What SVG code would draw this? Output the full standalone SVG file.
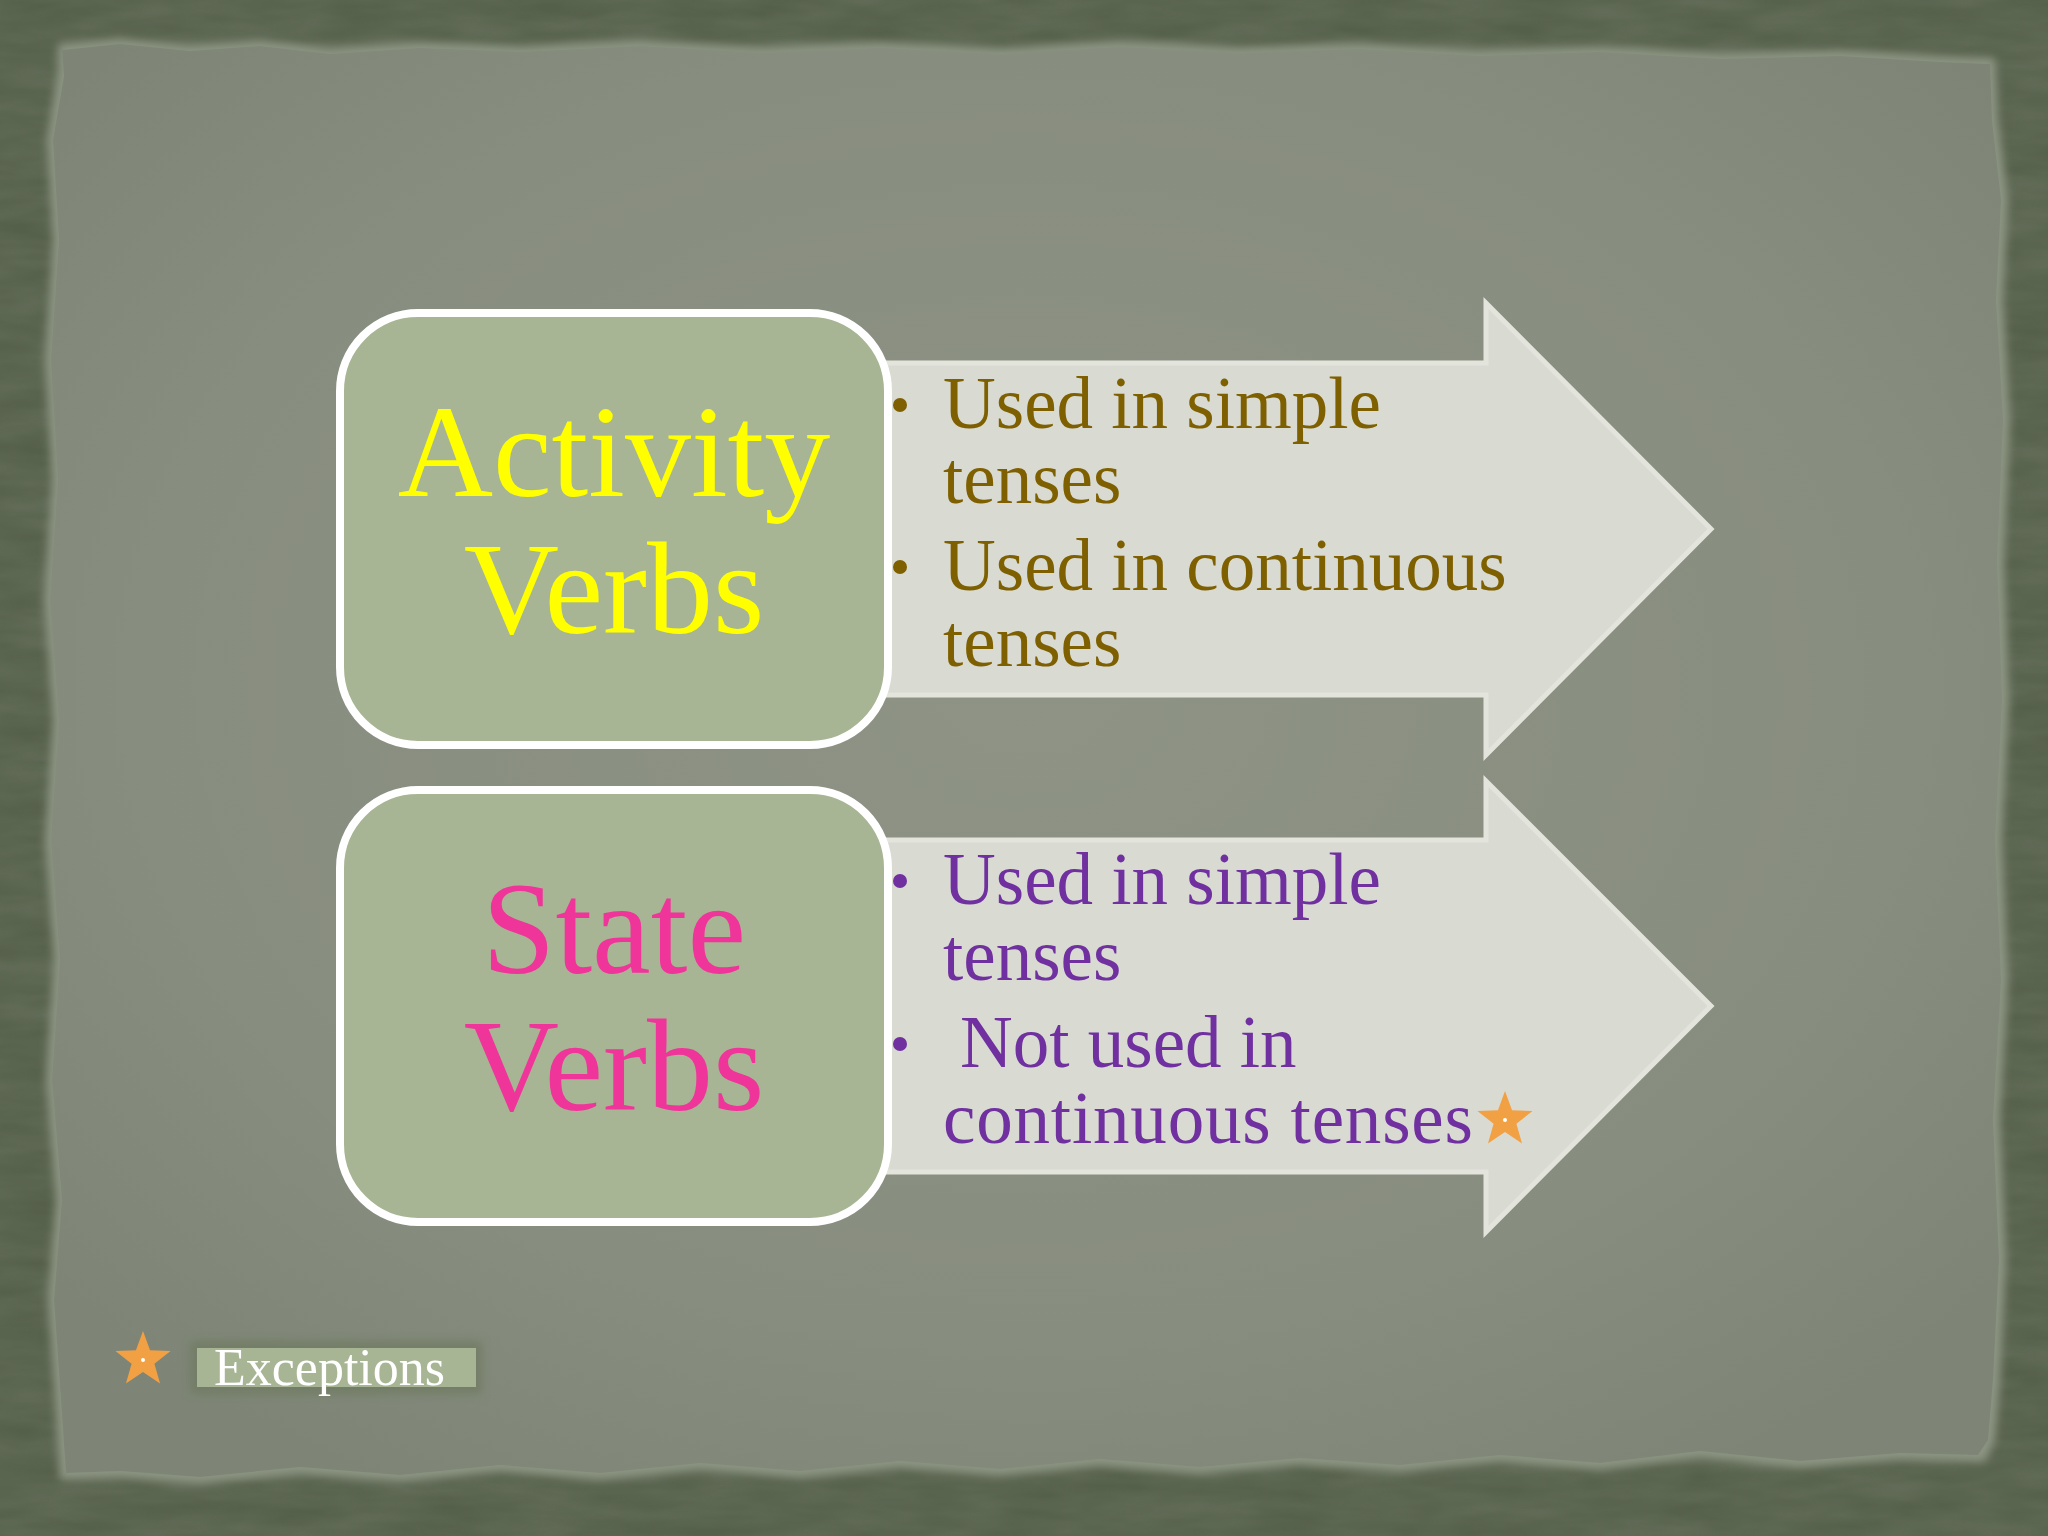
<svg xmlns="http://www.w3.org/2000/svg" xmlns:xlink="http://www.w3.org/1999/xlink" width="2048" height="1536" viewBox="0 0 2048 1536">
  <defs>
    <style>
      .box { fill: #a7b594; stroke: #ffffff; stroke-width: 8; }
      .arrow { fill: #d9dbd3; stroke: #e3e5dd; stroke-width: 5; stroke-linejoin: miter; }
      .big { font-family: "Liberation Serif", "Times New Roman", serif; font-size: 132px; text-anchor: middle; }
      .bul { font-family: "Liberation Serif", "Times New Roman", serif; font-size: 73px; }
      .brown { fill: #7f6000; }
      .purple { fill: #7030a0; }
      .star { fill: #f2a044; }
    </style>
    <radialGradient id="paperGrad" cx="50%" cy="45%" r="65%">
      <stop offset="0" stop-color="#8e9386"/>
      <stop offset="0.7" stop-color="#878d7f"/>
      <stop offset="1" stop-color="#7e8576"/>
    </radialGradient>
    <filter id="noise" x="0" y="0" width="100%" height="100%">
      <feTurbulence type="fractalNoise" baseFrequency="0.012 0.05" numOctaves="3" seed="4" result="t"/>
      <feColorMatrix in="t" type="matrix" values="0 0 0 0 0.3  0 0 0 0 0.33  0 0 0 0 0.27  0 0 0 0.35 -0.05"/>
    </filter>
    <filter id="soft" x="-10%" y="-10%" width="120%" height="120%">
      <feGaussianBlur stdDeviation="4"/>
    </filter>
    <filter id="shadow" x="-20%" y="-50%" width="140%" height="200%">
      <feGaussianBlur stdDeviation="5"/>
    </filter>
    <g id="starShape">
      <polygon points="0,-29 7.05,-9.71 27.58,-8.96 11.41,3.71 17.05,23.46 0,12 -17.05,23.46 -11.41,3.71 -27.58,-8.96 -7.05,-9.71"/>
      <circle cx="0" cy="0" r="2" fill="#ffffff"/>
    </g>
  </defs>

  <!-- outer dark border -->
  <rect x="0" y="0" width="2048" height="1536" fill="#55604a"/>
  <rect x="0" y="0" width="2048" height="1536" filter="url(#noise)" opacity="0.8"/>

  <!-- torn paper -->
  <g id="paper">
    <path d="M58,44 L120,38 L190,45 L260,40 L330,48 L420,42 L520,46 L640,40 L760,47 L880,42 L1000,48 L1120,41 L1240,47 L1360,43 L1480,50 L1600,46 L1720,53 L1840,50 L1940,56 L1995,58
             L1998,120 L2008,200 L2003,300 L2010,420 L2004,560 L2009,700 L2002,840 L2008,980 L2000,1120 L2006,1260 L2000,1380 L1995,1440 L1985,1462
             L1900,1460 L1800,1468 L1700,1458 L1600,1470 L1500,1462 L1400,1472 L1300,1465 L1200,1474 L1100,1466 L1000,1476 L900,1468 L800,1478 L700,1470 L600,1480 L500,1472 L400,1482 L300,1474 L200,1484 L120,1478 L60,1480
             L55,1400 L48,1300 L56,1200 L46,1080 L54,960 L45,840 L53,720 L44,600 L52,480 L45,360 L53,240 L47,140 L58,70 Z"
          fill="#8c9482" filter="url(#soft)"/>
    <path d="M62,50 L120,44 L190,51 L260,46 L330,54 L420,48 L520,52 L640,46 L760,53 L880,48 L1000,54 L1120,47 L1240,53 L1360,49 L1480,56 L1600,52 L1720,59 L1840,56 L1940,62 L1990,64
             L1992,120 L2001,200 L1996,300 L2003,420 L1997,560 L2002,700 L1995,840 L2001,980 L1993,1120 L1999,1260 L1993,1380 L1988,1440 L1978,1455
             L1900,1453 L1800,1461 L1700,1451 L1600,1463 L1500,1455 L1400,1465 L1300,1458 L1200,1467 L1100,1459 L1000,1469 L900,1461 L800,1471 L700,1463 L600,1473 L500,1465 L400,1475 L300,1467 L200,1477 L120,1471 L66,1473
             L61,1400 L54,1300 L62,1200 L52,1080 L60,960 L51,840 L59,720 L50,600 L58,480 L51,360 L59,240 L53,140 L64,76 Z"
          fill="url(#paperGrad)"/>
  </g>

  <!-- connectors (arrows) -->
  <g id="connectors">
    <polygon class="arrow" points="880,363 1486,363 1486,303 1711,529 1486,755 1486,695 880,695"/>
    <polygon class="arrow" points="880,840 1486,840 1486,781 1711,1006 1486,1232 1486,1172 880,1172"/>
  </g>

  <!-- node: Activity Verbs -->
  <g id="node-activity">
    <rect class="box" x="340" y="313" width="548" height="432" rx="78" ry="78"/>
    <text class="big" x="614" y="496" fill="#ffff00">Activity</text>
    <text class="big" x="614" y="633" fill="#ffff00">Verbs</text>
  </g>

  <!-- node: State Verbs -->
  <g id="node-state">
    <rect class="box" x="340" y="790" width="548" height="432" rx="78" ry="78"/>
    <text class="big" x="614" y="973" fill="#f0359a">State</text>
    <text class="big" x="614" y="1110" fill="#f0359a">Verbs</text>
  </g>

  <!-- activity bullets -->
  <g id="activity-bullets" class="bul brown">
    <circle cx="900" cy="405" r="7" fill="#7f6000"/>
    <text x="943" y="428">Used in simple</text>
    <text x="943" y="503">tenses</text>
    <circle cx="900" cy="567" r="7" fill="#7f6000"/>
    <text x="943" y="590">Used in continuous</text>
    <text x="943" y="666">tenses</text>
  </g>

  <!-- state bullets -->
  <g id="state-bullets" class="bul purple">
    <circle cx="900" cy="881" r="7" fill="#7030a0"/>
    <text x="943" y="904">Used in simple</text>
    <text x="943" y="980">tenses</text>
    <circle cx="900" cy="1044" r="7" fill="#7030a0"/>
    <text x="960" y="1067">Not used in</text>
    <text x="943" y="1143" textLength="530" lengthAdjust="spacing">continuous tenses</text>
    <use xlink:href="#starShape" class="star" x="1505" y="1120"/>
  </g>

  <!-- legend: Exceptions -->
  <g id="legend">
    <use xlink:href="#starShape" class="star" x="143" y="1360"/>
    <rect x="190" y="1341" width="292" height="53" fill="#6f7a62" opacity="0.8" filter="url(#shadow)"/>
    <rect x="197" y="1348" width="279" height="39" fill="#a7b594"/>
    <text x="214" y="1385" font-family="Liberation Serif, Times New Roman, serif" font-size="52" fill="#ffffff">Exceptions</text>
  </g>
</svg>
